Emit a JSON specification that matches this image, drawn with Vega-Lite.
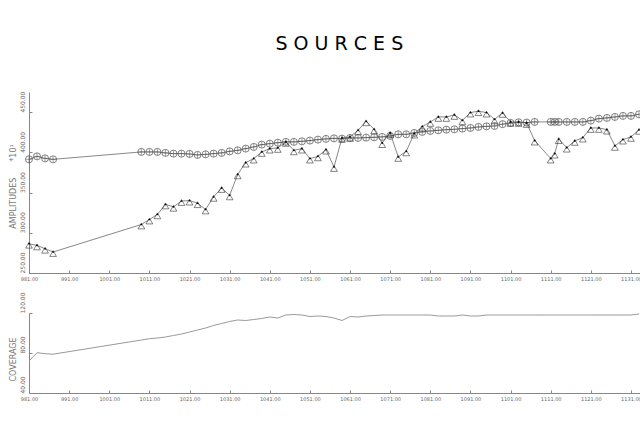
{
  "$schema": "https://vega.github.io/schema/vega-lite/v6.json",
  "background": "white",
  "padding": {"left": 8, "top": 35, "right": 0, "bottom": 0},
  "title": {"text": "S O U R C E S", "font": "DejaVu Sans", "fontSize": 19, "fontWeight": "normal", "color": "black", "anchor": "middle", "offset": 37, "dx": 13},
  "config": {
    "view": {"stroke": null},
    "axis": {
      "grid": false, "domainColor": "#888", "tickColor": "#888", "tickSize": -3,
      "labelColor": "#666", "labelFont": "DejaVu Sans", "titleFont": "DejaVu Sans",
      "titleColor": "#777", "titleFontWeight": "normal"
    }
  },
  "data": {
    "values": [
      {"t": 981, "circ": 391.3, "tri": 286.4, "cov": 72},
      {"t": 983, "circ": 395, "tri": 284.3, "cov": 80.3},
      {"t": 985, "circ": 392.5, "tri": 280.2, "cov": 79.3},
      {"t": 987, "circ": 391.3, "tri": 276.1, "cov": 78.8},
      {"t": 1009, "circ": 400.5, "tri": 310.3, "cov": 93},
      {"t": 1011, "circ": 400.5, "tri": 316.5, "cov": 94.3},
      {"t": 1013, "circ": 400.5, "tri": 322.9, "cov": 95},
      {"t": 1015, "circ": 399.3, "tri": 335.2, "cov": 96},
      {"t": 1017, "circ": 398.4, "tri": 332.3, "cov": 97.5},
      {"t": 1019, "circ": 398.4, "tri": 339.5, "cov": 99},
      {"t": 1021, "circ": 398, "tri": 340, "cov": 101},
      {"t": 1023, "circ": 396.8, "tri": 336.8, "cov": 103},
      {"t": 1025, "circ": 397.5, "tri": 329, "cov": 105},
      {"t": 1027, "circ": 398.4, "tri": 344.7, "cov": 107.5},
      {"t": 1029, "circ": 399.3, "tri": 355.7, "cov": 109.5},
      {"t": 1031, "circ": 401.2, "tri": 346.5, "cov": 111.5},
      {"t": 1033, "circ": 402.5, "tri": 372.6, "cov": 113},
      {"t": 1035, "circ": 404.6, "tri": 387.2, "cov": 112.5},
      {"t": 1037, "circ": 406.7, "tri": 392.2, "cov": 113.5},
      {"t": 1039, "circ": 409.6, "tri": 400.5, "cov": 114.5},
      {"t": 1041, "circ": 410.8, "tri": 404.6, "cov": 116},
      {"t": 1043, "circ": 412, "tri": 405.5, "cov": 115},
      {"t": 1045, "circ": 413, "tri": 413, "cov": 118},
      {"t": 1047, "circ": 413, "tri": 402.5, "cov": 118.5},
      {"t": 1049, "circ": 413.7, "tri": 404.6, "cov": 118},
      {"t": 1051, "circ": 414.6, "tri": 392.2, "cov": 116.5},
      {"t": 1053, "circ": 415.8, "tri": 395, "cov": 117},
      {"t": 1055, "circ": 416.7, "tri": 403.4, "cov": 116.5},
      {"t": 1057, "circ": 417.4, "tri": 381.8, "cov": 115},
      {"t": 1059, "circ": 417, "tri": 417.9, "cov": 112.5},
      {"t": 1061, "circ": 417.9, "tri": 419.2, "cov": 116.5},
      {"t": 1063, "circ": 417.9, "tri": 427.4, "cov": 116},
      {"t": 1065, "circ": 418.3, "tri": 438.6, "cov": 117},
      {"t": 1067, "circ": 418.7, "tri": 428.6, "cov": 117.5},
      {"t": 1069, "circ": 419.2, "tri": 411.5, "cov": 118},
      {"t": 1071, "circ": 420.4, "tri": 424.1, "cov": 118},
      {"t": 1073, "circ": 422.4, "tri": 394.3, "cov": 118},
      {"t": 1075, "circ": 422.4, "tri": 401.2, "cov": 118},
      {"t": 1077, "circ": 424.1, "tri": 423.3, "cov": 118},
      {"t": 1079, "circ": 425.4, "tri": 432, "cov": 118},
      {"t": 1081, "circ": 426.6, "tri": 437.8, "cov": 118},
      {"t": 1083, "circ": 427.4, "tri": 444, "cov": 117},
      {"t": 1085, "circ": 428.2, "tri": 444, "cov": 117},
      {"t": 1087, "circ": 428.6, "tri": 446.5, "cov": 117},
      {"t": 1089, "circ": 429.5, "tri": 439.8, "cov": 118},
      {"t": 1091, "circ": 430.3, "tri": 449.4, "cov": 117},
      {"t": 1093, "circ": 431.6, "tri": 451.2, "cov": 117},
      {"t": 1095, "circ": 432.3, "tri": 449.4, "cov": 118},
      {"t": 1097, "circ": 432.8, "tri": 441, "cov": 118},
      {"t": 1099, "circ": 435, "tri": 449, "cov": 118},
      {"t": 1101, "circ": 436.6, "tri": 437.8, "cov": 118},
      {"t": 1103, "circ": 437.3, "tri": 437.8, "cov": 118},
      {"t": 1105, "circ": 437, "tri": 436.5, "cov": 118},
      {"t": 1107, "circ": 437.8, "tri": 414.6, "cov": 118},
      {"t": 1111, "circ": 437.8, "tri": 392.2, "cov": 118},
      {"t": 1112, "circ": 437.8, "tri": 398.4, "cov": 118},
      {"t": 1113, "circ": 437.8, "tri": 416.5, "cov": 118},
      {"t": 1115, "circ": 437.8, "tri": 405.8, "cov": 118},
      {"t": 1117, "circ": 437.8, "tri": 414.2, "cov": 118},
      {"t": 1119, "circ": 437.8, "tri": 418.3, "cov": 118},
      {"t": 1121, "circ": 439.4, "tri": 430.3, "cov": 118},
      {"t": 1123, "circ": 441.9, "tri": 430.3, "cov": 118},
      {"t": 1125, "circ": 442.8, "tri": 428.2, "cov": 118},
      {"t": 1127, "circ": 444, "tri": 408, "cov": 118},
      {"t": 1129, "circ": 445.3, "tri": 415.8, "cov": 118},
      {"t": 1131, "circ": 445.3, "tri": 419.2, "cov": 118},
      {"t": 1133, "circ": 447.3, "tri": 428, "cov": 119}
    ]
  },
  "bounds": "flush",
  "spacing": 40,
  "vconcat": [
    {
      "width": 612,
      "height": 181,
      "encoding": {
        "x": {
          "field": "t", "type": "quantitative",
          "scale": {"domain": [981, 1133.5], "nice": false, "zero": false},
          "axis": {
            "values": [981, 991, 1001, 1011, 1021, 1031, 1041, 1051, 1061, 1071, 1081, 1091, 1101, 1111, 1121, 1131],
            "format": ".2f", "labelFontSize": 5, "labelAngle": 0, "labelPadding": 6.5,
            "labelFlush": false, "labelOverlap": false, "title": null
          }
        }
      },
      "layer": [
        {
          "mark": {"type": "line", "color": "#555", "strokeWidth": 0.7},
          "encoding": {
            "y": {
              "field": "circ", "type": "quantitative",
              "scale": {"domain": [250, 475], "nice": false, "zero": false},
              "title": "AMPLITUDES\u2003\u2003*10¹",
              "axis": {
                "values": [250, 300, 350, 400, 450], "format": ".2f",
                "labelFontSize": 6, "labelAngle": 270, "labelAlign": "left", "labelBaseline": "bottom",
                "labelPadding": 7, "labelOverlap": false,
                "titleFontSize": 8, "titlePadding": 2, "titleY": 94, "titleAngle": 270
              }
            }
          }
        },
        {
          "mark": {"type": "point", "shape": "circle", "size": 50, "filled": false, "stroke": "#333", "strokeWidth": 0.6, "opacity": 1},
          "encoding": {"y": {"field": "circ", "type": "quantitative", "title": "AMPLITUDES\u2003\u2003*10¹"}}
        },
        {
          "mark": {"type": "point", "shape": "M-1,0L1,0M0,-1L0,1", "size": 40, "filled": false, "stroke": "#444", "strokeWidth": 0.5, "opacity": 1},
          "encoding": {"y": {"field": "circ", "type": "quantitative", "title": "AMPLITUDES\u2003\u2003*10¹"}}
        },
        {
          "mark": {"type": "line", "color": "#555", "strokeWidth": 0.7},
          "encoding": {"y": {"field": "tri", "type": "quantitative", "title": "AMPLITUDES\u2003\u2003*10¹"}}
        },
        {
          "mark": {"type": "point", "shape": "triangle-up", "size": 45, "filled": false, "stroke": "#333", "strokeWidth": 0.6, "opacity": 1, "yOffset": 1.5},
          "encoding": {"y": {"field": "tri", "type": "quantitative", "title": "AMPLITUDES\u2003\u2003*10¹"}}
        },
        {
          "mark": {"type": "point", "shape": "circle", "size": 3, "filled": true, "color": "#000", "opacity": 1},
          "encoding": {"y": {"field": "tri", "type": "quantitative", "title": "AMPLITUDES\u2003\u2003*10¹"}}
        }
      ]
    },
    {
      "width": 612,
      "height": 80,
      "mark": {"type": "line", "color": "#999", "strokeWidth": 1},
      "encoding": {
        "x": {
          "field": "t", "type": "quantitative",
          "scale": {"domain": [981, 1133.5], "nice": false, "zero": false},
          "axis": {
            "values": [981, 991, 1001, 1011, 1021, 1031, 1041, 1051, 1061, 1071, 1081, 1091, 1101, 1111, 1121, 1131],
            "format": ".2f", "labelFontSize": 5, "labelAngle": 0, "labelPadding": 6.5,
            "labelFlush": false, "labelOverlap": false, "title": null
          }
        },
        "y": {
          "field": "cov", "type": "quantitative",
          "scale": {"domain": [40, 120], "nice": false, "zero": false},
          "axis": {
            "values": [40, 80, 120], "format": ".2f", "title": "COVERAGE",
            "labelFontSize": 6, "labelAngle": 270, "labelAlign": "left", "labelBaseline": "bottom",
            "labelPadding": 7, "labelOverlap": false,
            "titleFontSize": 8, "titlePadding": 2, "titleY": 46, "titleAngle": 270
          }
        }
      }
    }
  ]
}
